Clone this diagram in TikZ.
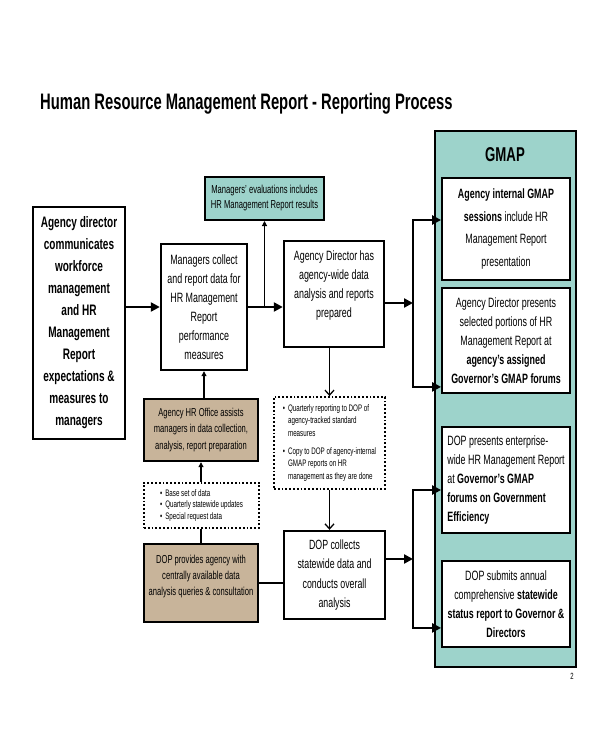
\documentclass[tikz,border=0pt]{standalone}
\usepackage{fontspec}
\setmainfont{Liberation Sans}[FakeStretch=0.66]
\usepackage{tikz}
\usetikzlibrary{arrows.meta}
\definecolor{gmapteal}{HTML}{9DD3CB}
\definecolor{hrtan}{HTML}{C8B49A}
\newcommand{\bul}{\textbullet\hspace{3pt}}
\newcommand{\ind}{\hphantom{\textbullet\hspace{3pt}}}

\begin{document}
\begin{tikzpicture}[x=1pt, y=-1pt,
    box/.style={draw, line width=2.4pt, align=center, inner sep=0pt},
    gbox/.style={draw, fill=white, line width=1.8pt, align=center, inner sep=0pt},
    dotbox/.style={draw, fill=white, line width=1.8pt, dotted, align=left, inner sep=0pt},
    bigfont/.style={font=\fontsize{13.5}{19}\selectfont},
    smallfont/.style={font=\fontsize{11.45}{16.5}\selectfont},
    tinyfont/.style={font=\fontsize{9.45}{12.3}\selectfont},
    flow/.style={line width=2.4pt, -{Triangle[length=9pt, width=9pt]}},
    feed/.style={line width=1.1pt, -{Triangle[length=5pt, width=5pt]}},
    drop/.style={line width=1.3pt, -{Straight Barb[length=5pt, width=9pt]}},
  ]
    \fill[white] (0, 0) rectangle (600, 730);
    \useasboundingbox (0, 0) rectangle (600, 730);

    % title
    \node[anchor=west, inner sep=0pt, font=\bfseries\fontsize{22.4}{26}\selectfont](title) at (40, 104)
      {Human Resource Management Report - Reporting Process};

    % agency director communicates
    \node[box, minimum width=92pt, minimum height=232pt,
      font=\bfseries\fontsize{15.2}{22}\selectfont](dir) at (79, 323)
      {Agency director\\communicates\\workforce\\management\\and HR\\Management\\Report\\expectations \&\\measures to\\managers};
    % managers collect
    \node[box, bigfont, minimum width=86pt, minimum height=126pt](collect) at (204, 307)
      {Managers collect\\and report data for\\HR Management\\Report\\performance\\measures};
    % managers' evaluations
    \node[box, fill=gmapteal, line width=2pt, font=\fontsize{11.55}{15}\selectfont,
      minimum width=119pt, minimum height=43pt](evals) at (264.5, 198.5)
      {Managers' evaluations includes\\HR Management Report results};
    % agency director has reports
    \node[box, bigfont, minimum width=100pt, minimum height=106pt](adir) at (334, 294)
      {Agency Director has\\agency-wide data\\analysis and reports\\prepared\\\mbox{}};

    % agency HR office
    \node[box, fill=hrtan, smallfont, minimum width=114pt, minimum height=62pt](hroff) at (201, 430)
      {Agency HR Office assists\\managers in data collection,\\analysis, report preparation};
    % data from DOP
    \node[dotbox, font=\fontsize{9.45}{11.8}\selectfont, minimum width=115pt, minimum height=45pt](supply) at (201.5, 505.5)
      {\bul Base set of data\\\bul Quarterly statewide updates\\\bul Special request data};
    % DOP provides
    \node[box, fill=hrtan, font=\fontsize{11.55}{16}\selectfont, minimum width=114pt, minimum height=78pt](dopprov) at (201, 583)
      {DOP provides agency with\\centrally available data\\analysis queries \& consultation\\\mbox{}};

    % reporting to DOP
    \node[dotbox, tinyfont, minimum width=111pt, minimum height=92pt](report) at (329.5, 443)
      {\bul Quarterly reporting to DOP of\\\ind agency-tracked standard\\\ind measures\\[6pt]
       \bul Copy to DOP of agency-internal\\\ind GMAP reports on HR\\\ind management as they are done};
    % DOP collects
    \node[box, font=\fontsize{13.35}{19.3}\selectfont, minimum width=101pt, minimum height=88pt](dopcol) at (334.5, 575)
      {DOP collects\\statewide data and\\conducts overall\\analysis};

    % GMAP panel
    \node[draw, fill=gmapteal, line width=2.4pt, inner sep=0pt,
      minimum width=141pt, minimum height=536pt](gmap) at (505.5, 399){};
    \node[font=\bfseries\fontsize{20}{22}\selectfont](gmaptitle) at (505, 155){GMAP};
    \node[gbox, font=\fontsize{13.5}{22.7}\selectfont, minimum width=128pt, minimum height=102pt](sessions) at (506, 229)
      {\textbf{Agency internal GMAP}\\\textbf{sessions} include HR\\Management Report\\presentation};
    \node[gbox, bigfont, minimum width=128pt, minimum height=105pt](forums) at (506, 340.5)
      {Agency Director presents\\selected portions of HR\\Management Report at\\\textbf{agency's assigned}\\\textbf{Governor's GMAP forums}};
    \node[gbox, bigfont, align=left, minimum width=128pt, minimum height=106pt](efficiency) at (506, 480)
      {DOP presents enterprise-\\wide HR Management Report\\at \textbf{Governor's GMAP}\\\textbf{forums on Government}\\\textbf{Efficiency}};
    \node[gbox, bigfont, minimum width=128pt, minimum height=86pt](annual) at (506, 604)
      {DOP submits annual\\comprehensive \textbf{statewide}\\\textbf{status report to Governor \&}\\\textbf{Directors}};
    % page number
    \node[font=\fontsize{9}{10}\selectfont](pagenum) at (572, 676){2};

    % main flow
    \coordinate (topfork) at (413, 303);
    \coordinate (botfork) at (413, 559);
    \draw[flow] (dir.east |- collect.west) -- (collect.west);
    \draw[flow] (collect.east) -- (adir.west |- collect.east);
    \draw[feed] (evals.south |- collect.east) -- (evals.south);
    \draw[flow] (adir.east |- topfork) -- (topfork);
    \draw[flow] (topfork) |- ([yshift=9pt]sessions.west);
    \draw[flow] (topfork) |- ([yshift=7pt]forums.south west);
    \draw[flow] (dopcol.east |- botfork) -- (botfork);
    \draw[flow] (botfork) |- ([yshift=-10pt]efficiency.west);
    \draw[flow] (botfork) |- ([yshift=20pt]annual.south west);
    \draw[line width=2.4pt] (dopprov.east) -- (dopcol.west |- dopprov.east);
    % support
    \draw[feed] (collect.south |- hroff.north) -- (collect.south);
    \draw[feed] (hroff.south |- supply.north) -- (hroff.south);
    \draw[line width=1.1pt] (hroff.south |- dopprov.north) -- (hroff.south |- supply.south);
    % reporting
    \draw[drop] (report.north |- adir.south) -- (report.north);
    \draw[drop] (report.south) -- (report.south |- dopcol.north);
\end{tikzpicture}
\end{document}
